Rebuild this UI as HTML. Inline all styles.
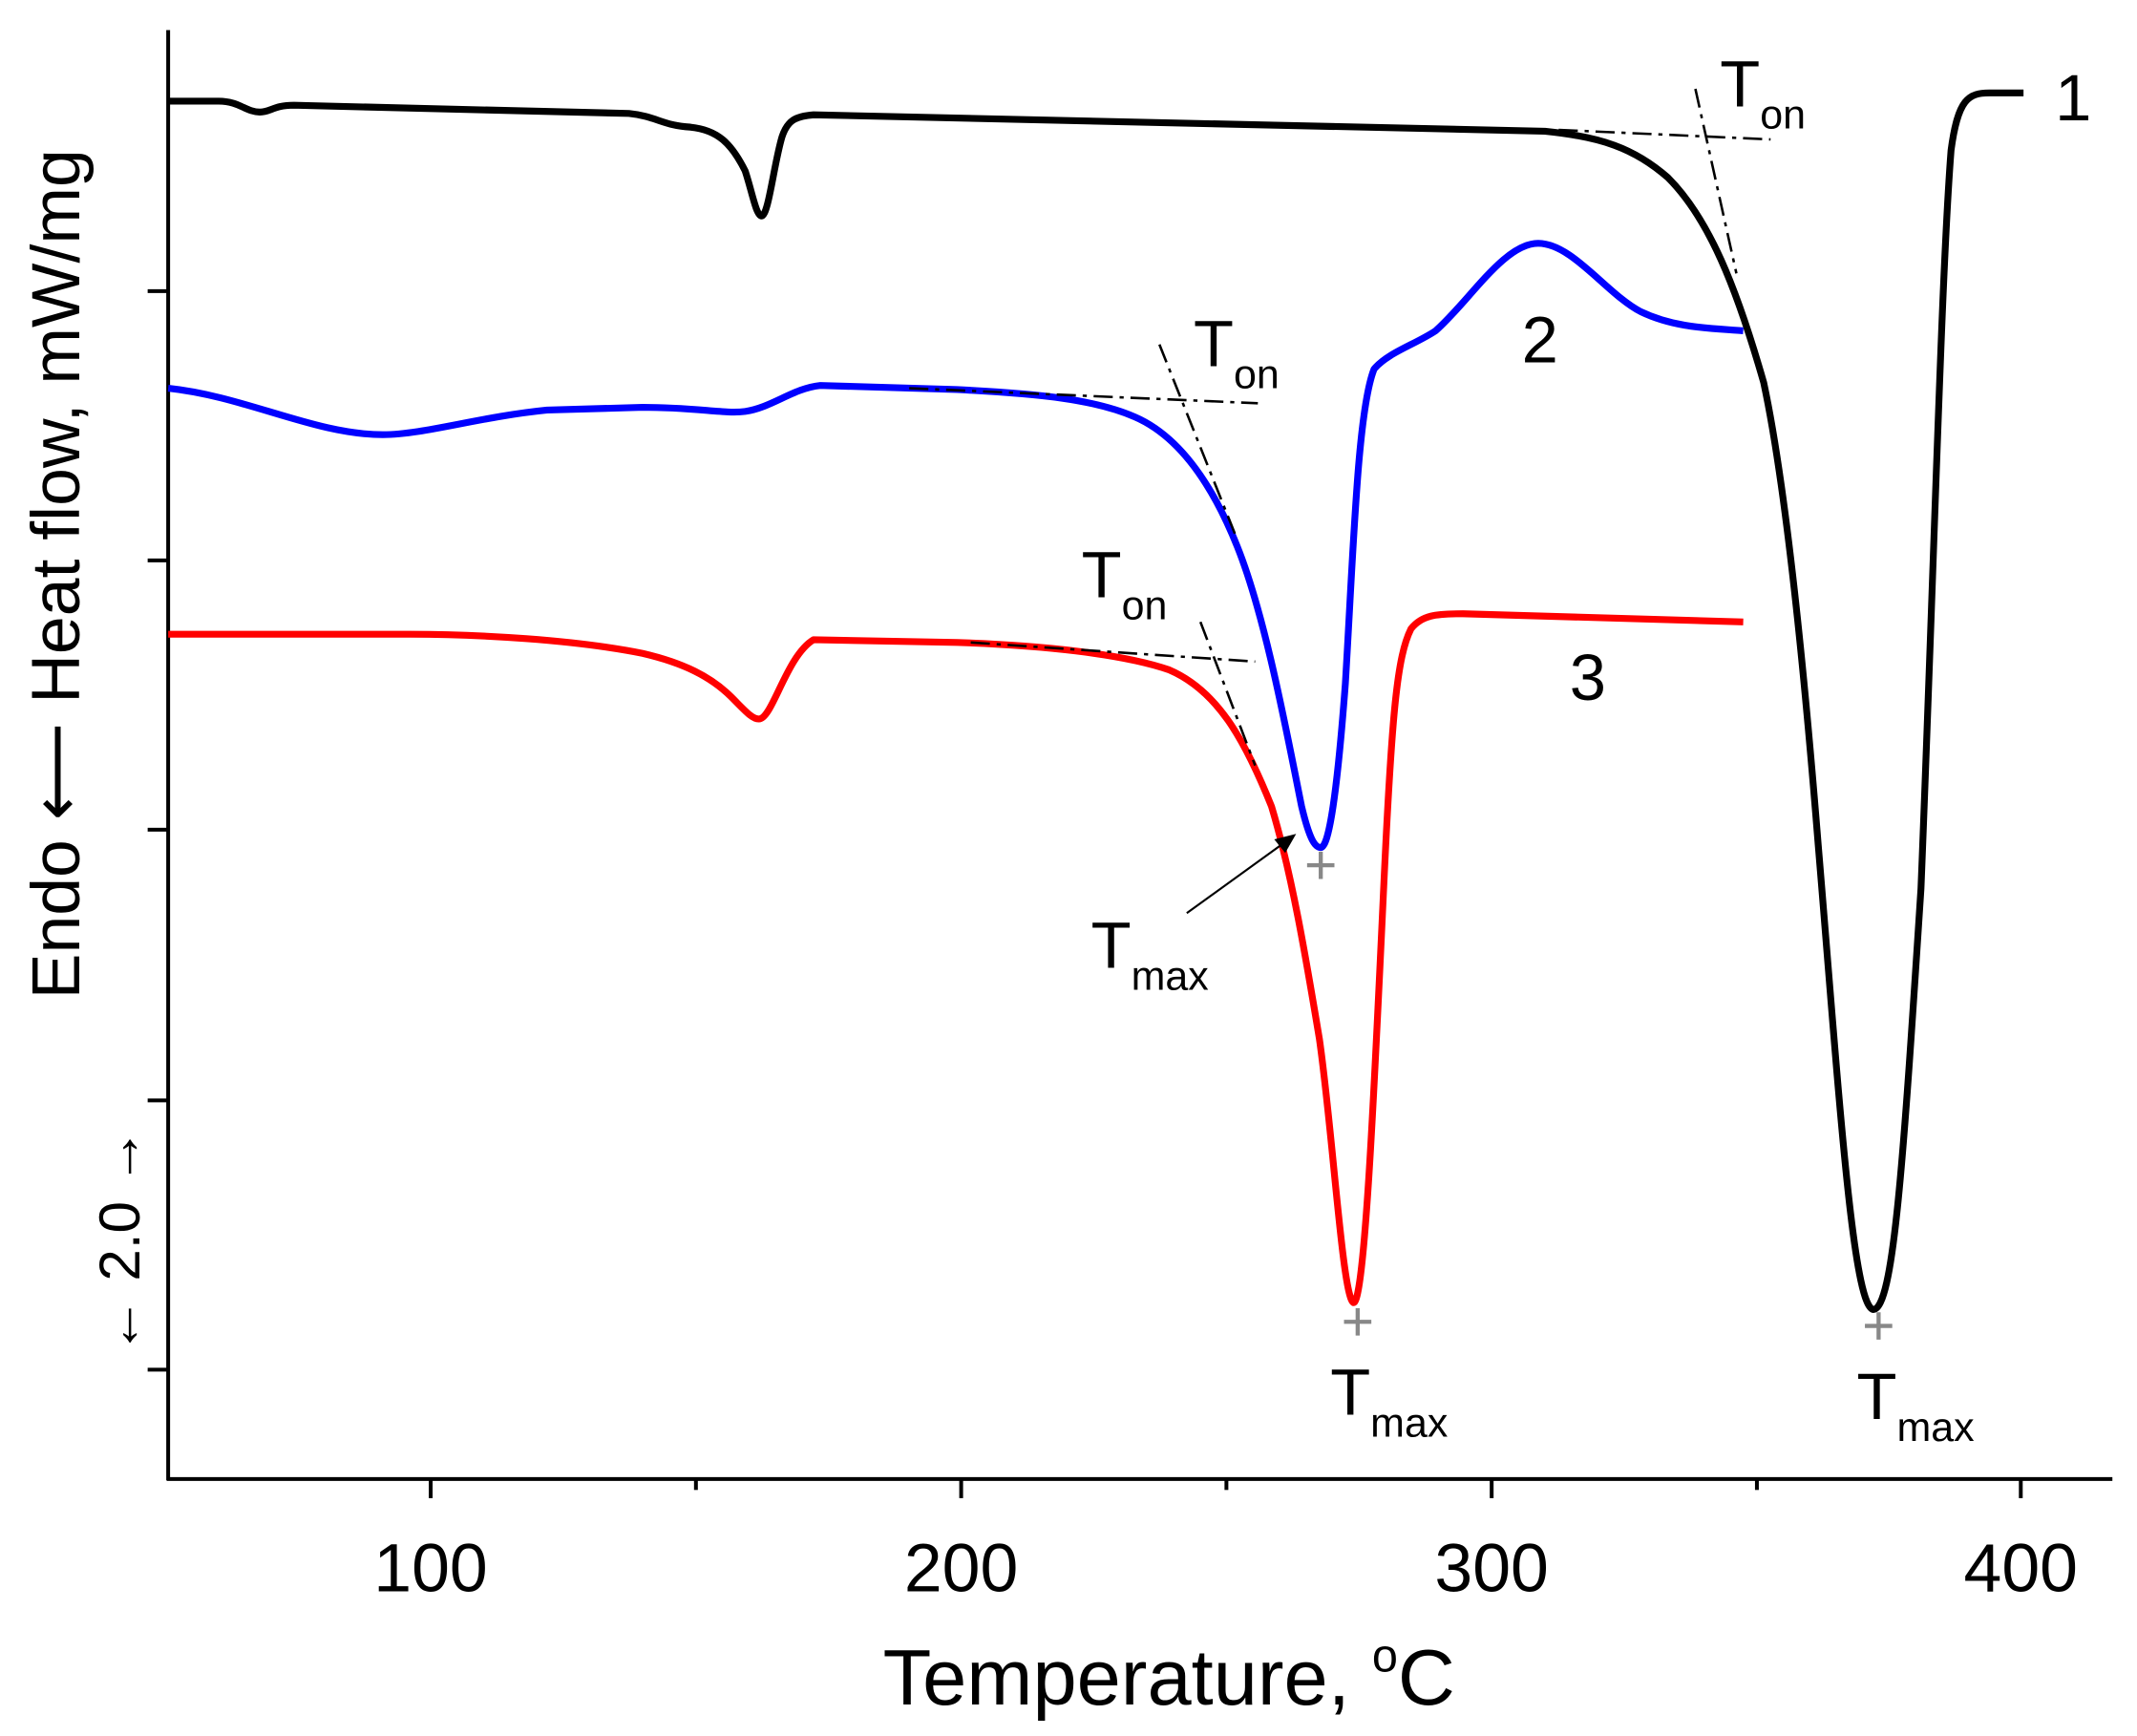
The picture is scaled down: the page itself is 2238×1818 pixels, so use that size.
<!DOCTYPE html>
<html><head><meta charset="utf-8"><style>html,body{margin:0;padding:0;background:#fff}svg{display:block}</style></head>
<body>
<svg width="2238" height="1818" viewBox="0 0 1563 1270" preserveAspectRatio="none" xmlns="http://www.w3.org/2000/svg" font-family="Liberation Sans, Arial, sans-serif">
<g stroke="#000" stroke-width="2.8" fill="none">
<line x1="123" y1="22" x2="123" y2="1083"/>
<line x1="122" y1="1082" x2="1545" y2="1082"/>
<line x1="108" y1="213" x2="123" y2="213"/>
<line x1="108" y1="410" x2="123" y2="410"/>
<line x1="108" y1="607" x2="123" y2="607"/>
<line x1="108" y1="805" x2="123" y2="805"/>
<line x1="108" y1="1002" x2="123" y2="1002"/>
<line x1="315" y1="1082" x2="315" y2="1096"/>
<line x1="703" y1="1082" x2="703" y2="1096"/>
<line x1="1091" y1="1082" x2="1091" y2="1096"/>
<line x1="1478" y1="1082" x2="1478" y2="1096"/>
<line x1="509" y1="1082" x2="509" y2="1090"/>
<line x1="897" y1="1082" x2="897" y2="1090"/>
<line x1="1285" y1="1082" x2="1285" y2="1090"/>
</g>
<g font-size="50" text-anchor="middle">
<text x="315" y="1164">100</text><text x="703" y="1164">200</text><text x="1091" y="1164">300</text><text x="1478" y="1164">400</text>
</g>
<text x="855" y="1247" font-size="58" text-anchor="middle">Temperature, <tspan font-size="34" dy="-24">o</tspan><tspan dy="24">C</tspan></text>
<text transform="translate(58,420) rotate(-90)" font-size="50" text-anchor="middle">Endo ⟵ Heat flow, mW/mg</text>
<text transform="translate(102,908) rotate(-90)" font-size="42" text-anchor="middle">← 2.0 →</text>
<g fill="none" stroke-width="5" stroke-linejoin="round">
<path stroke="#000" d="M123,74 L160,74 C175,74 180,82 190,82 C198,82 200,77 215,77 L460,83 C480,85 485,92 505,93 C525,95 535,105 545,125 C550,140 553,158 557,158 C562,158 566,120 572,100 C576,88 582,85 595,84 L1130,96 C1170,100 1195,108 1220,130 C1250,160 1270,210 1290,280 C1305,350 1318,470 1330,620 C1345,800 1355,955 1370,958 C1385,958 1392,850 1405,650 C1415,400 1420,200 1427,110 C1432,72 1440,68 1455,68 L1480,68"/>
<path stroke="#0000ff" d="M123,284 C180,290 230,318 280,318 C310,318 350,305 400,300 L470,298 C510,298 530,303 545,301 C565,298 580,284 600,282 L700,285 C760,288 800,292 830,305 C860,318 885,350 905,400 C925,450 940,530 952,590 C958,615 962,620 966,620 C972,620 978,580 984,500 C990,400 993,300 1005,270 C1015,258 1035,252 1050,242 C1075,220 1100,178 1125,178 C1150,178 1175,215 1200,228 C1225,240 1250,240 1275,242"/>
<path stroke="#ff0000" d="M123,464 L300,464 C350,464 420,468 470,478 C500,485 520,495 535,510 C545,520 550,526 555,526 C565,526 575,480 595,468 L700,470 C760,472 820,478 855,490 C890,505 910,540 930,590 C945,640 955,700 965,760 C975,830 982,950 990,953 C998,953 1005,800 1012,650 C1018,520 1022,480 1032,460 C1040,450 1050,449 1070,449 L1275,455"/>
</g>
<g stroke="#000" stroke-width="1.8" fill="none" stroke-dasharray="14,5,3,5">
<line x1="1140" y1="95" x2="1295" y2="102"/>
<line x1="1240" y1="65" x2="1270" y2="200"/>
<line x1="665" y1="284" x2="920" y2="295"/>
<line x1="848" y1="252" x2="905" y2="395"/>
<line x1="710" y1="470" x2="918" y2="484"/>
<line x1="878" y1="455" x2="918" y2="560"/>
</g>
<g font-size="48">
<text x="1258" y="78">T<tspan font-size="30" dy="16">on</tspan></text>
<text x="873" y="268">T<tspan font-size="30" dy="16">on</tspan></text>
<text x="791" y="437">T<tspan font-size="30" dy="16">on</tspan></text>
<text x="798" y="708">T<tspan font-size="30" dy="16">max</tspan></text>
<text x="973" y="1035">T<tspan font-size="30" dy="16">max</tspan></text>
<text x="1358" y="1038">T<tspan font-size="30" dy="16">max</tspan></text>
<text x="1503" y="88">1</text>
<text x="1113" y="265">2</text>
<text x="1148" y="512">3</text>
</g>
<g stroke="#888" stroke-width="3">
<path d="M956,633h20M966,623v20"/><path d="M983,967h20M993,957v20"/><path d="M1364,970h20M1374,960v20"/>
</g>
<line x1="868" y1="668" x2="940" y2="616" stroke="#000" stroke-width="1.5"/>
<path d="M948,610 L932,614 L940,624 Z" fill="#000"/>
</svg>
</body></html>
